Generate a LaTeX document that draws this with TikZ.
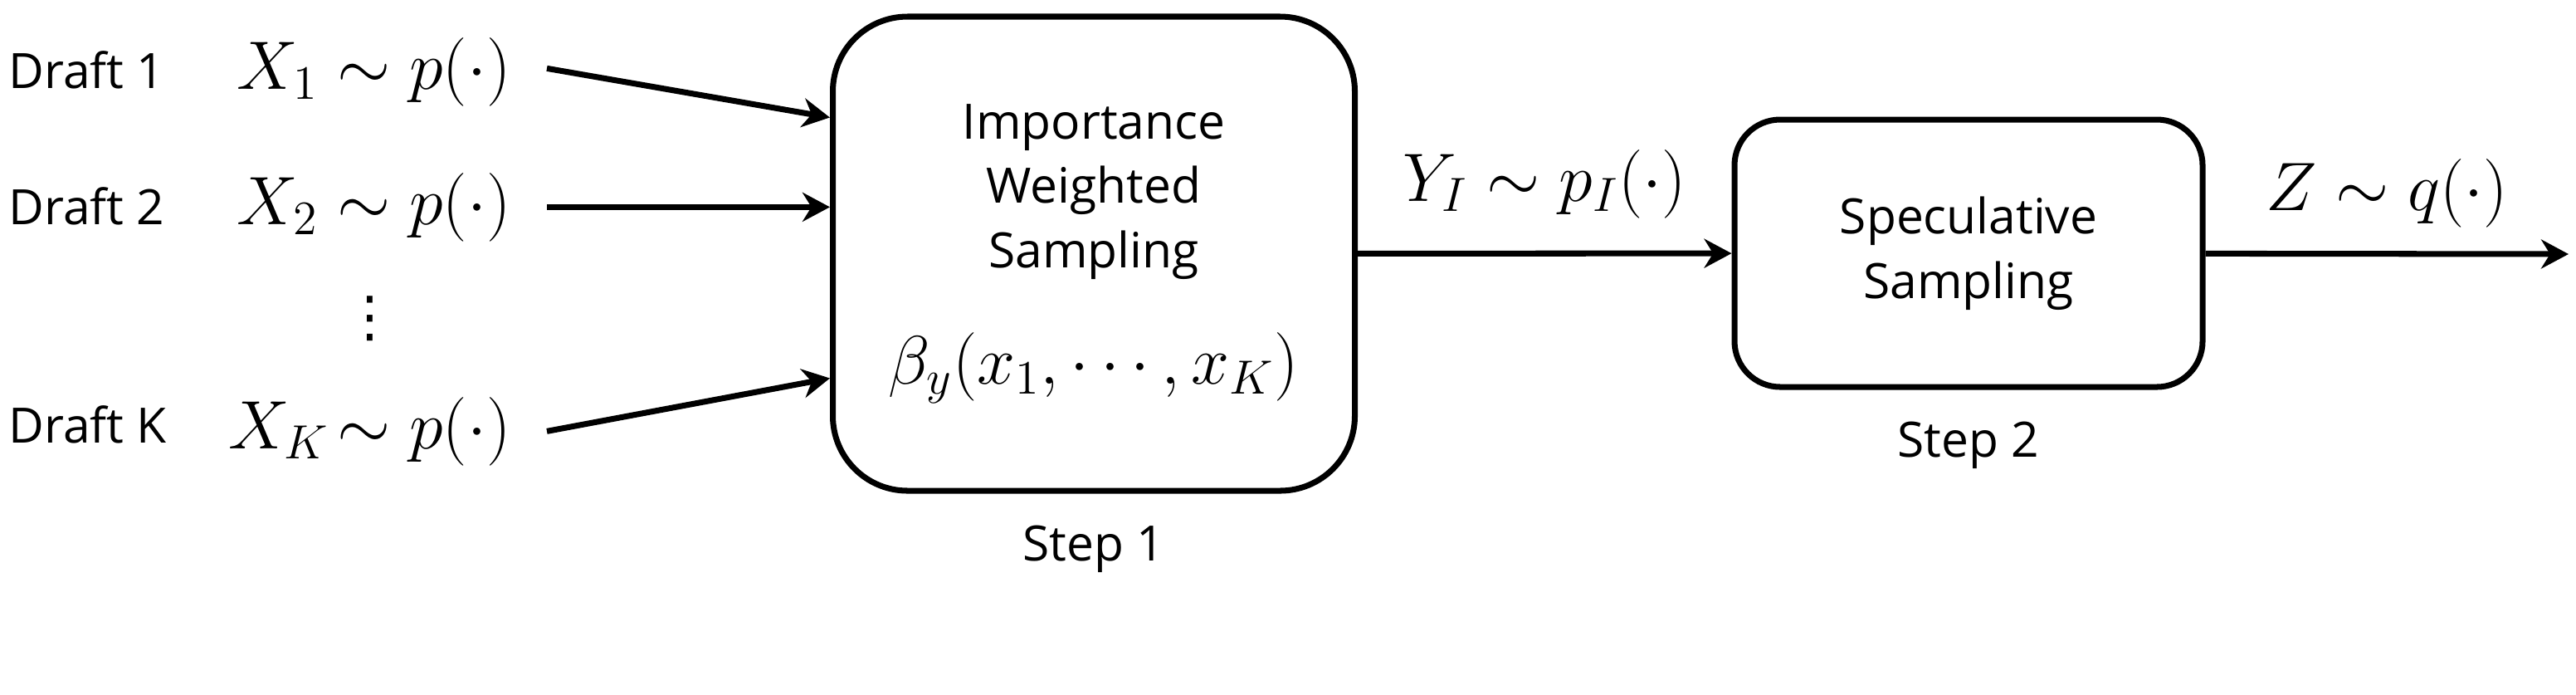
\documentclass[tikz,border=0pt]{standalone}
\usepackage{fix-cm}
\usepackage[no-math]{fontspec}
\setmainfont{Open Sans}
\newfontfamily\symfont{DejaVu Sans}
\usepackage{tikz}
\usetikzlibrary{arrows.meta}
\usetikzlibrary{positioning}
\tikzset{%
  every stage/.style={
    draw,
    rectangle,
    line width=2pt,
    align=center,
    font=\fontsize{16.7}{22.1}\selectfont
  },
  draft label/.style={
    anchor=base west,
    inner sep=0pt,
    font=\fontsize{16.7}{20}\selectfont
  },
  draft math/.style={
    anchor=base east,
    inner sep=0pt,
    font=\fontsize{23.5}{28}\selectfont
  },
  flow/.style={
    line width=2pt,
    -{Stealth[length=3.3mm,width=3.5mm]}
  },
}

\begin{document}
\begin{tikzpicture}
    \useasboundingbox (0,0) rectangle (31.04,-8.36);

    \node (d1) [draft label,xshift=0.1cm,yshift=-1.06cm] {Draft 1};
    \node (d2) [draft label,xshift=0.1cm,yshift=-2.70cm] {Draft 2};
    \node (dk) [draft label,xshift=0.1cm,yshift=-5.33cm] {Draft K};

    \node (m1) [draft math,xshift=6.16cm,yshift=-1.07cm] {$X_1\sim p(\cdot)$};
    \node (m2) [draft math,xshift=6.16cm,yshift=-2.70cm] {$X_2\sim p(\cdot)$};
    \node (mk) [draft math,xshift=6.16cm,yshift=-5.40cm] {$X_K\!\sim p(\cdot)$};
    \node (dots) [anchor=base,inner sep=0pt,xshift=4.46cm,yshift=-4.04cm,
      font=\symfont\fontsize{19}{22}\selectfont] {⋮};

    \node (imp) [every stage,xshift=13.18cm,yshift=-3.055cm,
      minimum width=6.29cm,minimum height=5.71cm,rounded corners=0.9cm]
    {Importance\\Weighted\\Sampling\\[0.62cm]%
     {\fontsize{23.5}{28}\selectfont$\beta_y(x_1,\cdots,x_K)$}};
    \node (spec) [every stage,xshift=23.72cm,yshift=-3.05cm,
      minimum width=5.64cm,minimum height=3.22cm,rounded corners=0.55cm]
    {Speculative\\Sampling};

    \node (s1) [below=0.38cm of imp,inner sep=0pt,
      font=\fontsize{16.7}{20}\selectfont] {Step 1};
    \node (s2) [below=0.38cm of spec,inner sep=0pt,
      font=\fontsize{16.7}{20}\selectfont] {Step 2};
    \coordinate (out) at (30.95,-3.06);

    \draw   [flow] ([xshift=0.43cm,yshift=0.04cm]m1.east)--([yshift=1.64cm]imp.west);
    \draw   [flow] ([xshift=0.43cm]m2.east)--(m2.east -| imp.west);
    \draw   [flow] ([xshift=0.43cm]mk.east)--([yshift=-1.5cm]imp.west);
    \draw   [flow] (imp)--node[above=0.39cm,inner sep=0pt,
      font=\fontsize{23.5}{28}\selectfont] {$Y_I\sim p_I(\cdot)$} (spec);
    \draw   [flow] (spec)--node[above=0.28cm,inner sep=0pt,
      font=\fontsize{23.5}{28}\selectfont] {$Z\sim q(\cdot)$} (out);
\end{tikzpicture}
\end{document}
